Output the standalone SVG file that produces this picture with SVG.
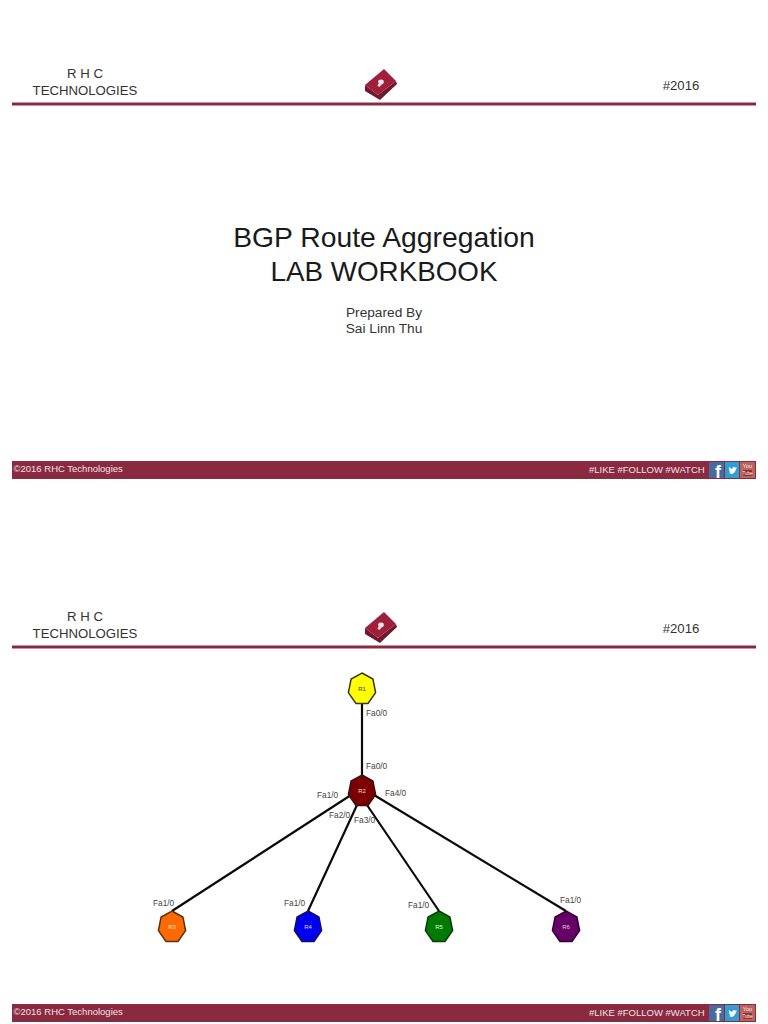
<svg xmlns="http://www.w3.org/2000/svg" width="768" height="1024" viewBox="0 0 768 1024">
<style>
text{font-family:"Liberation Sans",Arial,sans-serif}
.hd{font-size:13.2px;fill:#333;text-anchor:middle}
.ft{font-size:9.5px;fill:#efe2e6}
.lb{font-size:8.3px;fill:#444}
.nl{font-size:6px;text-anchor:middle}
.rule{stroke:#8a2a40;stroke-width:2.8}
.c{stroke:#0a0a0a;stroke-width:2.2;fill:none}
.n{stroke-width:1.5}
</style>
<defs>
<polygon id="h" points="0,-16 10.9,-10 13.6,3.6 6,14.500 -6,14.500 -13.6,3.6 -10.9,-10"/>
<g id="logo">
<polygon points="-16,0 -16,6 -1,15 16,-1 15,-4 -3,10" fill="#6e1a2c"/>
<polygon points="-16,0 3,-16 15,-4 -3,10" fill="#a0203c"/>
<ellipse cx="0" cy="-3" rx="2.8" ry="2.4" fill="#f4e4e8"/>
<rect x="-3" y="-2" width="2.6" height="3.4" fill="#f4e4e8" transform="rotate(40 -2 0)"/>
</g>
<g id="header">
<line class="rule" x1="12" x2="756" y1="104" y2="104"/>
<text class="hd" x="85" y="78">R H C</text>
<text class="hd" x="85" y="95">TECHNOLOGIES</text>
<text class="hd" x="681" y="90">#2016</text>
<use href="#logo" x="381" y="85"/>
</g>
<g id="footer">
<rect x="12" y="461" width="744" height="18" fill="#8a2a40"/>
<text class="ft" x="13.500" y="472">©2016 RHC Technologies</text>
<text class="ft" x="589" y="473">#LIKE #FOLLOW #WATCH</text>
<rect x="709" y="462" width="15" height="16" fill="#4a6a9c"/>
<text x="718" y="478" font-size="18" font-weight="700" fill="#fff" text-anchor="middle">f</text>
<rect x="725" y="462" width="14" height="16" fill="#2f9fd8"/>
<path d="M728 473c3 2 7 1 8-4l1-1.500-1.500.3c-.8-1.300-3-.8-3 1-1.300 0-2.500-.6-3.500-1.800-.4 1.200 0 2.300 1 3l-1-.2c0 1 .7 1.800 1.600 2-.5 0-1 .1-1.200.1.400.8 1 1 1.800 1.200-.8.500-1.700.6-2.200.4z" fill="#fff"/>
<rect x="740" y="462" width="15" height="16" fill="#b8655e"/>
<text x="747.500" y="468" font-size="5.500" fill="#f6e6e6" text-anchor="middle">You</text>
<rect x="743" y="470" width="9" height="6" rx="1" fill="#9a2a2a"/>
<text x="747.500" y="475" font-size="4.500" fill="#fff" text-anchor="middle">Tube</text>
</g>
</defs>
<rect width="768" height="1024" fill="#fff"/>
<use href="#header"/>
<use href="#footer"/>
<g id="title" text-anchor="middle" fill="#1a1a1a">
<text x="384" y="247" font-size="28.300">BGP Route Aggregation</text>
<text x="384" y="280.500" font-size="27.800">LAB WORKBOOK</text>
<text x="384" y="317" font-size="13.700" fill="#333">Prepared By</text>
<text x="384" y="333" font-size="13.700" fill="#333">Sai Linn Thu</text>
</g>
<use href="#header" y="543"/>
<use href="#footer" y="543"/>
<g id="connectors">
<line class="c" x1="362" y1="704" x2="362" y2="776"/>
<line class="c" x1="351" y1="795" x2="172" y2="911"/>
<line class="c" x1="357" y1="805" x2="308" y2="911"/>
<line class="c" x1="367" y1="805" x2="439" y2="911"/>
<line class="c" x1="374" y1="795" x2="566" y2="911"/>
</g>
<g id="link-labels">
<text class="lb" x="366" y="716">Fa0/0</text>
<text class="lb" x="366" y="769">Fa0/0</text>
<text class="lb" x="317" y="798">Fa1/0</text>
<text class="lb" x="329" y="818">Fa2/0</text>
<text class="lb" x="354" y="823">Fa3/0</text>
<text class="lb" x="385" y="796">Fa4/0</text>
<text class="lb" x="153" y="906">Fa1/0</text>
<text class="lb" x="284" y="906">Fa1/0</text>
<text class="lb" x="408" y="908">Fa1/0</text>
<text class="lb" x="560" y="903">Fa1/0</text>
</g>
<g id="R1"><use href="#h" x="362" y="689" class="n" fill="#ffff00" stroke="#3a3a10"/><text class="nl" x="362" y="691" fill="#333">R1</text></g>
<g id="R2"><use href="#h" x="362" y="791" class="n" fill="#7d0000" stroke="#3a1010"/><text class="nl" x="362" y="793" fill="#f0dcdc">R2</text></g>
<g id="R3"><use href="#h" x="172" y="927" class="n" fill="#ff6a00" stroke="#5a3010"/><text class="nl" x="172" y="929" fill="#ffe6cc">R3</text></g>
<g id="R4"><use href="#h" x="308" y="927" class="n" fill="#0000ee" stroke="#101060"/><text class="nl" x="308" y="929" fill="#dde">R4</text></g>
<g id="R5"><use href="#h" x="439" y="927" class="n" fill="#007a00" stroke="#0a3a0a"/><text class="nl" x="439" y="929" fill="#dfd">R5</text></g>
<g id="R6"><use href="#h" x="566" y="927" class="n" fill="#660066" stroke="#300030"/><text class="nl" x="566" y="929" fill="#ecd">R6</text></g>
</svg>
